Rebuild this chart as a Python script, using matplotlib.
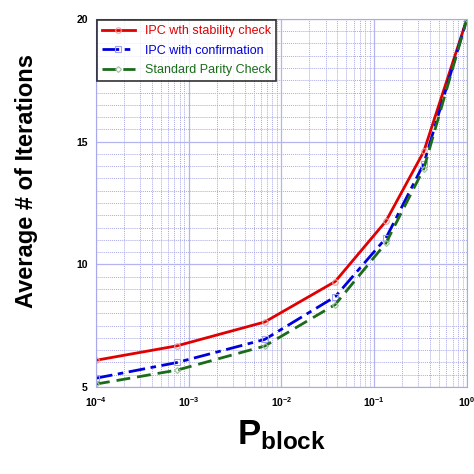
import numpy as np
import matplotlib.pyplot as plt
from matplotlib.ticker import MultipleLocator, LogLocator, NullFormatter

plt.rcParams['font.family'] = ['Liberation Sans', 'DejaVu Sans']
plt.rcParams['mathtext.fontset'] = 'custom'
plt.rcParams['mathtext.rm'] = 'Liberation Sans'
plt.rcParams['mathtext.bf'] = 'Liberation Sans:bold'
plt.rcParams['mathtext.default'] = 'bf'

# data
p_block = [1e-4, 7.5e-4, 6.6e-3, 3.8e-2, 1.34e-1, 3.43e-1, 1.0]
stability = [6.09, 6.68, 7.65, 9.3, 11.76, 14.6, 20.0]
confirmation = [5.36, 6.0, 6.94, 8.68, 11.07, 14.1, 20.0]
standard = [5.12, 5.69, 6.67, 8.36, 10.87, 13.9, 20.0]

labels = ["IPC wth stability check", "IPC with confirmation", "Standard Parity Check"]
colors = ["#e00000", "#0000dd", "#1a6b1a"]

fig = plt.figure(figsize=(4.74, 4.74), dpi=100)
ax = fig.add_axes([0.2025, 0.1835, 0.7825, 0.7765])

ax.plot(p_block, stability, color=colors[0], lw=2, ls='-', marker='o', ms=4,
        mfc='none', mec='#f0a0a0', mew=0.8, label=labels[0])
ax.plot(p_block, confirmation, color=colors[1], lw=2, ls=(0, (6, 2, 2, 2)), marker='s', ms=4,
        mfc='none', mec='#a0a0f0', mew=0.8, label=labels[1])
ax.plot(p_block, standard, color=colors[2], lw=2, ls=(0, (5, 2.5)), marker='D', ms=3,
        mfc='none', mec='#a0c0a0', mew=0.8, label=labels[2])

ax.set_xscale('log')
ax.set_xlim(1e-4, 1.0)
ax.set_ylim(5, 20)
ax.yaxis.set_major_locator(MultipleLocator(5))
ax.yaxis.set_minor_locator(MultipleLocator(0.5))
ax.xaxis.set_major_locator(LogLocator(base=10, numticks=10))
ax.xaxis.set_minor_locator(LogLocator(base=10, subs=np.arange(2, 10), numticks=10))
ax.xaxis.set_minor_formatter(NullFormatter())

ax.grid(True, which='major', color='#b4b4ee', lw=0.9, ls='-')
ax.grid(True, which='minor', color='#aaaae8', lw=0.7, ls=(0, (1, 1)))
ax.set_axisbelow(True)
for s in ax.spines.values():
    s.set_color('#a8a8ea')
ax.tick_params(which='both', length=0, labelsize=7.5, pad=6)
for t in ax.get_xticklabels() + ax.get_yticklabels():
    t.set_fontweight('bold')

ax.set_ylabel("Average # of Iterations", fontsize=17, fontweight='bold')
ax.yaxis.set_label_coords(-0.155, 0.56)
ax.set_xlabel(r"$\mathbf{P_{block}}$", fontsize=25)
ax.xaxis.set_label_coords(0.5, -0.085)
ax.xaxis.label.set_verticalalignment('top')

leg = ax.legend(loc='upper left', fontsize=9, frameon=True, fancybox=False,
                borderaxespad=0.1, handlelength=2.6, labelspacing=0.6)
leg.get_frame().set_edgecolor('black')
leg.get_frame().set_linewidth(1.2)
for txt, c in zip(leg.get_texts(), colors):
    txt.set_color(c)

fig.savefig("out.png", dpi=100)
